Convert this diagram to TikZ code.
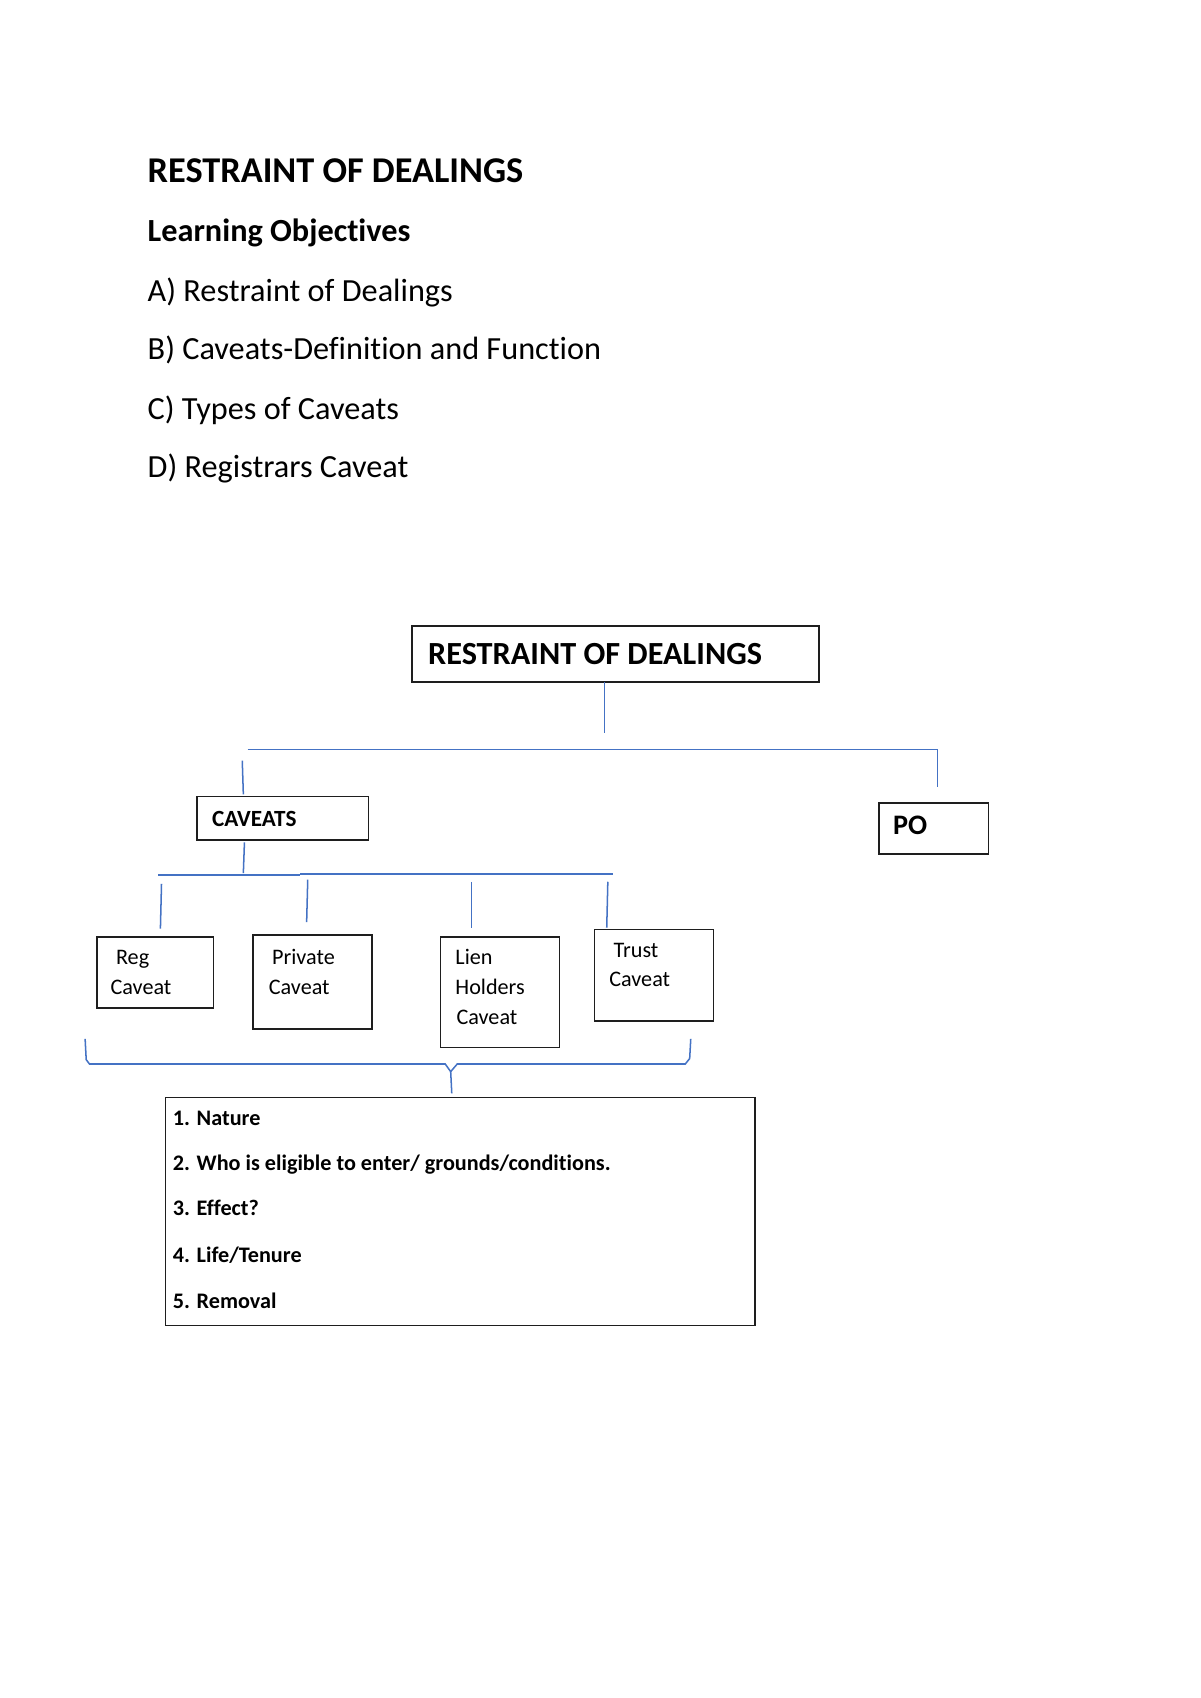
\documentclass[tikz,border=0pt]{standalone}
\usepackage{fontspec}
\setmainfont[Ligatures={NoCommon}]{Carlito}
\definecolor{lineblue}{RGB}{68,114,196}
\definecolor{boxline}{RGB}{30,30,30}
\newcommand\upx{0.5411pt}
\begin{document}
\begin{tikzpicture}[x=0.5411pt,y=-0.5411pt,
  bline/.style={draw=lineblue, line width=0.75pt},
  boxst/.style={draw=boxline, line width=0.8pt, inner sep=0pt, anchor=north west},
  txt/.style={anchor=base west, inner sep=0pt, font=\fontsize{11}{13}\selectfont},
  btxt/.style={anchor=base west, inner sep=0pt, font=\fontsize{11}{13}\selectfont\bfseries},
  head/.style={anchor=base west, inner sep=0pt, font=\fontsize{16}{19}\selectfont}]
\useasboundingbox[fill=white] (0,0) rectangle (1100,1556);

% heading text
\node[head, font=\fontsize{18}{22}\selectfont\bfseries] (title) at (135,167) {RESTRAINT OF DEALINGS};
\node[head, font=\fontsize{16}{19}\selectfont\bfseries] (lo) at (135,221) {Learning Objectives};
\node[head] (ia) at (135,276) {A) Restraint of Dealings};
\node[head] (ib) at (135,329) {B) Caveats-Definition and Function};
\node[head] (ic) at (135,384) {C) Types of Caveats};
\node[head] (id) at (135,438) {D) Registrars Caveat};

% boxes
\node[boxst, minimum width=373*\upx, minimum height=51*\upx] (top) at (377,573) {};
\node[btxt, font=\fontsize{16}{19}\selectfont\bfseries] (toptxt) at (392,609) {RESTRAINT OF DEALINGS};

\node[boxst, minimum width=157*\upx, minimum height=40*\upx] (cav) at (180,729) {};
\node[btxt, font=\fontsize{11.5}{14}\selectfont\bfseries] (cavtxt) at (194,757) {CAVEATS};

\node[boxst, minimum width=100*\upx, minimum height=47*\upx] (po) at (805,735) {};
\node[btxt, font=\fontsize{14}{17}\selectfont\bfseries] (potxt) at (818,765) {PO};

\node[boxst, minimum width=107*\upx, minimum height=65*\upx] (reg) at (88,858) {};
\node[txt] (reg1) at (106,884) {Reg};
\node[txt] (reg2) at (101,911) {Caveat};

\node[boxst, minimum width=109*\upx, minimum height=86*\upx] (priv) at (231,856) {};
\node[txt] (priv1) at (249,884) {Private};
\node[txt] (priv2) at (246,911) {Caveat};

\node[boxst, minimum width=109*\upx, minimum height=101*\upx] (lien) at (403,858) {};
\node[txt] (lien1) at (417,884) {Lien};
\node[txt] (lien2) at (417,911) {Holders};
\node[txt] (lien3) at (418,939) {Caveat};

\node[boxst, minimum width=109*\upx, minimum height=84*\upx] (trust) at (544,851) {};
\node[txt] (trust1) at (562,877) {Trust};
\node[txt] (trust2) at (558,904) {Caveat};

\node[boxst, minimum width=540*\upx, minimum height=209*\upx] (list) at (151,1005) {};
\node[btxt] (l1) at (158,1031) {1. Nature};
\node[btxt] (l2) at (158,1073) {2. Who is eligible to enter/ grounds/conditions.};
\node[btxt] (l3) at (158,1114) {3. Effect?};
\node[btxt] (l4) at (158,1157) {4. Life/Tenure};
\node[btxt] (l5) at (158,1199) {5. Removal};

% connector coordinates
\coordinate (a1) at (554,625); \coordinate (a2) at (554,672);
\coordinate (b1) at (227,687); \coordinate (b2) at (859,687); \coordinate (b3) at (859,721);
\coordinate (c1) at (222,697); \coordinate (c2) at (223,728);
\coordinate (d1) at (224,772); \coordinate (d2) at (223,800);
\coordinate (e1) at (145,802); \coordinate (e2) at (275,802);
\coordinate (e3) at (275,801); \coordinate (e4) at (562,801);
\coordinate (f1) at (148,810); \coordinate (f2) at (147,851);
\coordinate (g1) at (282,806); \coordinate (g2) at (281,845);
\coordinate (h1) at (432,808); \coordinate (h2) at (432,850);
\coordinate (k1) at (557,808); \coordinate (k2) at (556,850);

\draw[bline] (a1) -- (a2);
\draw[bline] (b1) -- (b2) -- (b3);
\draw[bline] (c1) -- (c2);
\draw[bline] (d1) -- (d2);
\draw[bline] (e1) -- (e2);
\draw[bline] (e3) -- (e4);
\draw[bline] (f1) -- (f2);
\draw[bline] (g1) -- (g2);
\draw[bline] (h1) -- (h2);
\draw[bline] (k1) -- (k2);

% brace
\coordinate (br1) at (78,952); \coordinate (brtip) at (414,1002); \coordinate (br2) at (633,952);
\draw[bline] (br1) -- (79,971) -- (82,975) -- (408,975) -- (413,982) -- (brtip);
\draw[bline] (413,982) -- (419,975) -- (628,975) -- (632,970) -- (br2);
\end{tikzpicture}
\end{document}
